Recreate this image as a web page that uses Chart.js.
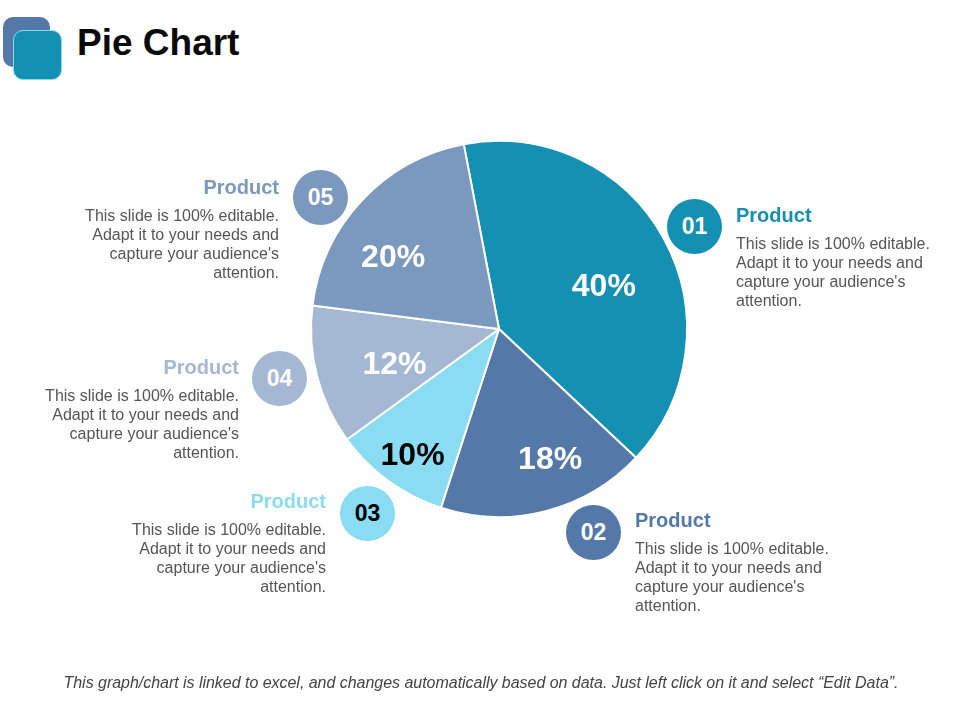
<!DOCTYPE html>
<html>
<head>
<meta charset="utf-8">
<title>Pie Chart</title>
<script src="https://cdn.jsdelivr.net/npm/chart.js@4/dist/chart.umd.min.js"></script>
<style>
    html, body { margin: 0; padding: 0; background: #fff; }
    #slide { position: relative; width: 960px; height: 720px; overflow: hidden; font-family: "Liberation Sans", Arial, sans-serif; }
    #pie { position: absolute; left: 0; top: 0; }
    .icon-back, .icon-front { position: absolute; box-sizing: border-box; border-radius: 10px; }
    .icon-back { left: 3px; top: 17px; width: 47px; height: 50px; background: #5478A8; }
    .icon-front { left: 13px; top: 30px; width: 49px; height: 50px; background: #1490B2; border: 1px solid #8ADCF2; }
    #title { position: absolute; left: 77px; top: 21px; font-size: 37px; line-height: 44px; font-weight: bold; color: #0a0a0a; }
    #footer { position: absolute; left: 0; width: 962px; top: 673px; text-align: center; font-size: 16px; line-height: 19px; font-style: italic; color: #444; letter-spacing: -0.03px; }
    .badge { position: absolute; width: 55px; height: 55px; border-radius: 50%; text-align: center; line-height: 55px; font-size: 23px; font-weight: bold; color: #fff; }
    .callout { position: absolute; width: 210px; }
    .callout.right { text-align: right; }
    .callout .name { font-size: 20px; line-height: 24px; font-weight: bold; margin-bottom: 7px; }
    .callout .text { font-size: 16px; line-height: 19px; color: #555; }
</style>
</head>
<body>
<div id="slide">
    <div class="icon-back"></div>
    <div class="icon-front"></div>
    <div id="title">Pie Chart</div>
    <canvas id="pie" width="960" height="720"></canvas>
    <div id="callouts"></div>
    <div id="footer">This graph/chart is linked to excel, and changes automatically based on data. Just left click on it and select “Edit Data”.</div>
</div>
<script>
const categories = ['01', '02', '03', '04', '05'];
const productNames = ['Product', 'Product', 'Product', 'Product', 'Product'];
const shares = [40, 18, 10, 12, 20];
const sliceColors = ['#1490B2', '#5478A8', '#8ADCF2', '#A5B8D3', '#7B98BE'];
const labelColors = ['#fff', '#fff', '#000', '#fff', '#fff'];
const bodyLines = ['This slide is 100% editable.', 'Adapt it to your needs and', "capture your audience's", 'attention.'];

// label distance from pie centre, as a fraction of the radius, plus a small hand nudge
const labelRadius = [0.6, 0.73, 0.8, 0.585, 0.685];
const labelNudge = [[6, 13], [17, -2], [2, 5], [2, 9], [-12, 17]];

// where each callout sits on the slide
const badgeBoxes = [[667, 199], [566, 505], [340, 486], [252, 351], [293, 170]];
const calloutBoxes = [
    { left: 736, top: 203 },
    { left: 635, top: 508, bodyGap: 1 },
    { left: 116, top: 489, right: true, bodyGap: 1 },
    { left: 29, top: 355, right: true },
    { left: 69, top: 175, right: true }
];

const callouts = document.getElementById('callouts');
categories.forEach((cat, i) => {
    const color = sliceColors[i];
    const box = calloutBoxes[i];
    callouts.innerHTML += `
        <div class="badge" style="left:${badgeBoxes[i][0]}px;top:${badgeBoxes[i][1]}px;background:${color};color:${labelColors[i]}">${cat}</div>
        <div class="callout ${box.right ? 'right' : ''}" style="left:${box.left}px;top:${box.top}px">
            <div class="name" style="color:${color}">${productNames[i]}</div>
            <div class="text" style="margin-top:${box.bodyGap || 0}px">${bodyLines.join('<br>')}</div>
        </div>`;
});

const percentLabels = {
    id: 'percentLabels',
    afterDatasetsDraw(chart) {
        const ctx = chart.ctx;
        chart.getDatasetMeta(0).data.forEach((arc, i) => {
            const p = arc.getProps(['x', 'y', 'startAngle', 'endAngle', 'outerRadius'], true);
            const mid = (p.startAngle + p.endAngle) / 2;
            const r = p.outerRadius * labelRadius[i];
            ctx.save();
            ctx.font = 'bold 32px "Liberation Sans", Arial, sans-serif';
            ctx.fillStyle = labelColors[i];
            ctx.textAlign = 'center';
            ctx.textBaseline = 'middle';
            ctx.fillText(shares[i] + '%', p.x + Math.cos(mid) * r + labelNudge[i][0], p.y + Math.sin(mid) * r + labelNudge[i][1]);
            ctx.restore();
        });
    }
};

new Chart(document.getElementById('pie'), {
    type: 'pie',
    data: {
        labels: categories,
        datasets: [{
            data: shares,
            backgroundColor: sliceColors,
            borderColor: '#fff',
            borderWidth: 2
        }]
    },
    options: {
        responsive: false,
        animation: false,
        rotation: -10.8,
        layout: { padding: { left: 310, right: 272, top: 140, bottom: 202 } },
        plugins: {
            legend: { display: false },
            tooltip: { enabled: false }
        }
    },
    plugins: [percentLabels]
});
</script>
</body>
</html>
